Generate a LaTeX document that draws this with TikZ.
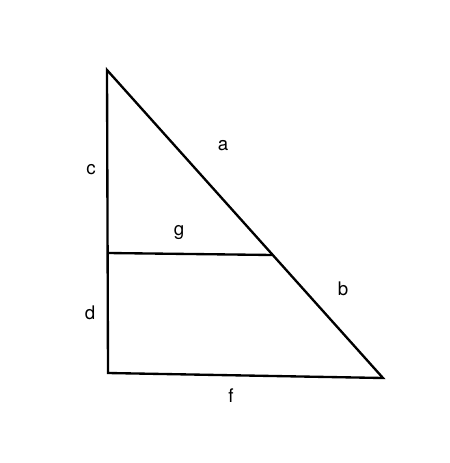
\documentclass[tikz,border=0pt]{standalone}
\usepackage{fontspec}
\setmainfont{TeX Gyre Heros}
\begin{document}
\begin{tikzpicture}[x=0.03cm,y=-0.03cm,
	side/.style={line width=2pt, line join=miter},
	lbl/.style={font=\fontsize{16}{19}\selectfont, inner sep=0pt}]
	\useasboundingbox (0,0) rectangle (450,463);
	% corners of the triangle
	\coordinate (top) at (107,70);
	\coordinate (bl) at (108,373);
	\coordinate (br) at (383,378);
	\coordinate (gl) at (108,253);
	\coordinate (gr) at (273,255);
	\draw [side] (top) -- (bl) -- (br) -- cycle;
	\draw [side] (gl) -- (gr);
	% labels
	\node [lbl] (la) at (223,146) {a};
	\node [lbl] (lb) at (343,289) {b};
	\node [lbl] (lc) at (91,170) {c};
	\node [lbl] (ld) at (90,313) {d};
	\node [lbl] (lf) at (231,396) {f};
	\node [lbl] (lg) at (179,232) {g};
\end{tikzpicture}
\end{document}
